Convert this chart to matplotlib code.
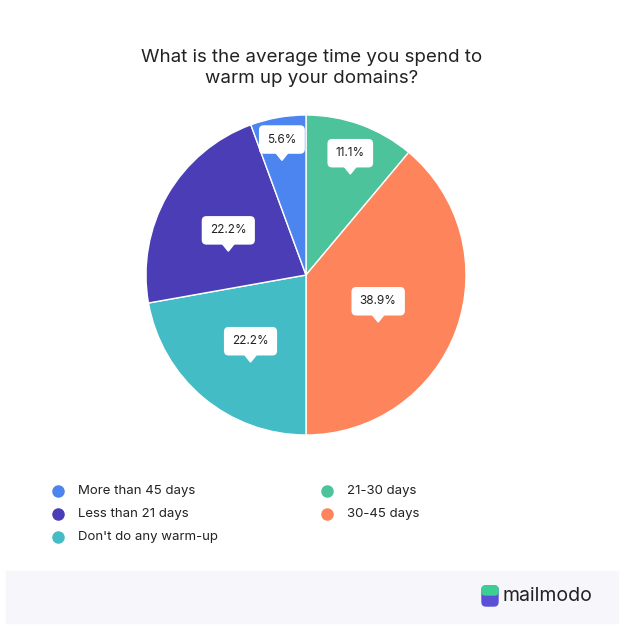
import numpy as np
import matplotlib.pyplot as plt
from matplotlib.patches import FancyBboxPatch, Rectangle, Polygon

plt.rcParams['font.family'] = ['Inter', 'DejaVu Sans']

labels = ['21-30 days', '30-45 days', "Don't do any warm-up", 'Less than 21 days', 'More than 45 days']
values = [11.1, 38.9, 22.2, 22.2, 5.6]
colors = ['#4cc39a', '#fd845b', '#44bcc6', '#4a3db5', '#4c84f0']

W, H = 624, 628
fig = plt.figure(figsize=(W / 100, H / 100), dpi=100)
bg = fig.add_axes([0, 0, 1, 1])
bg.set_xlim(0, W); bg.set_ylim(H, 0); bg.axis('off')

bg.text(312, 68, 'What is the average time you spend to\nwarm up your domains?',
        ha='center', va='center', fontsize=13.5, color='#222222', linespacing=1.35)

# footer band
bg.add_patch(Rectangle((6, 571), 612, 52, color='#f6f6fb', zorder=0))
bg.add_patch(FancyBboxPatch((482, 586), 16, 20, boxstyle='round,pad=0,rounding_size=4',
                            color='#5a4fd6'))
bg.add_patch(FancyBboxPatch((482, 586), 16, 9, boxstyle='round,pad=0,rounding_size=3',
                            color='#3ccf95'))
bg.text(502, 596, 'mailmodo', fontsize=14, va='center', color='#222222')

# pie
cx, cy, r = 306, 275, 160
ax = fig.add_axes([(cx - r) / W, 1 - (cy + r) / H, 2 * r / W, 2 * r / H])
wedges, _ = ax.pie(values, colors=colors, startangle=90, counterclock=False,
                   wedgeprops=dict(linewidth=1, edgecolor='white'))
ax.set_xlim(-1, 1); ax.set_ylim(-1, 1)
ax.set_aspect('equal')

label_r = [0.81, 0.48, 0.54, 0.56, 0.86]
for w, v, lr in zip(wedges, values, label_r):
    ang = np.deg2rad((w.theta1 + w.theta2) / 2)
    x, y = lr * np.cos(ang), lr * np.sin(ang)
    ax.text(x, y, f'{v}%', ha='center', va='center', fontsize=8.5, color='#222222',
            bbox=dict(boxstyle='round,pad=0.7,rounding_size=0.4', fc='white', ec='none'),
            zorder=5)
    ax.add_patch(Polygon([[x - 0.04, y - 0.08], [x + 0.04, y - 0.08], [x, y - 0.13]],
                         closed=True, color='white', zorder=5))

# legend
leg_items = [(58, 491, 4), (58, 514, 3), (58, 537, 2), (327, 491, 0), (327, 514, 1)]
for x, y, i in leg_items:
    bg.plot(x, y, 'o', ms=8, color=colors[i])
    bg.text(x + 20, y, labels[i], va='center', fontsize=9.5, color='#222222')

fig.savefig('out.png', dpi=100, facecolor='white')
